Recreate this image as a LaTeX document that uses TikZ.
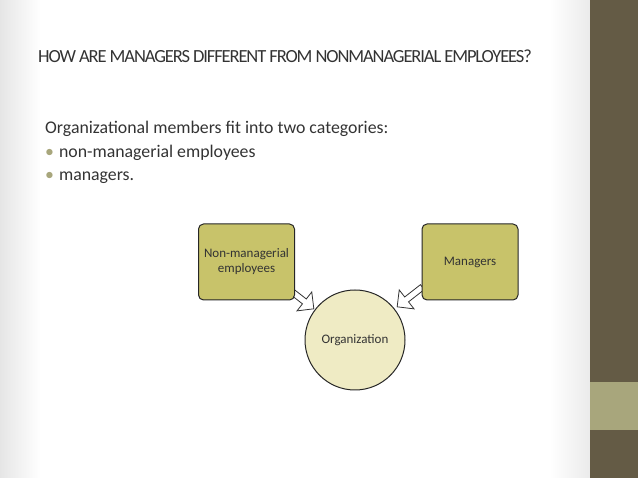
\documentclass[tikz,border=0pt]{standalone}
\usepackage{fontspec}
\setmainfont{Carlito}
\usetikzlibrary{shapes.arrows}
\definecolor{barc}{HTML}{645B45}
\definecolor{bandc}{HTML}{A8A67C}
\definecolor{boxc}{HTML}{C8C36A}
\definecolor{circc}{HTML}{EFEBC4}
\definecolor{bulc}{HTML}{A8A67C}
\definecolor{txt}{HTML}{333333}
\tikzset{
  box/.style={draw=black!85, line width=1pt, fill=boxc, rounded corners=5pt, minimum width=96pt, minimum height=76pt, align=center, font=\fontsize{13}{15}\selectfont, text=txt},
  circ/.style={draw=black!85, line width=1pt, fill=circc, circle, minimum size=100pt, font=\fontsize{13}{15}\selectfont, text=txt},
  barrow/.style={single arrow, draw=black!80, line width=0.8pt, fill=white, minimum height=32pt, minimum width=24pt, single arrow head extend=4pt, inner sep=1pt}
}
\begin{document}
\begin{tikzpicture}[x=1pt,y=-1pt]
\useasboundingbox (0,0) rectangle (638,478);
\shade[left color=black!10, right color=white] (0,0) rectangle (40,478);
\shade[left color=white, right color=black!8] (550,0) rectangle (590,478);
\fill[barc] (590,0) rectangle (638,478);
\fill[bandc] (590,382) rectangle (638,430);
\node[anchor=west, inner sep=0, text=txt] (title) at (38,56) {\addfontfeature{LetterSpace=-6}\fontsize{18.5}{20}\selectfont HOW ARE MANAGERS DIFFERENT FROM NONMANAGERIAL EMPLOYEES?};
\node[anchor=north west, inner sep=0, align=left, text=txt, font=\fontsize{17.8}{23.5}\selectfont] (body) at (45,121)
{Organizational members fit into two categories:\\
{\color{bulc}\textbullet}\hspace{5pt}non-managerial employees\\
{\color{bulc}\textbullet}\hspace{5pt}managers.};
\node[barrow, rotate=-38] (a1) at (300,298) {};
\node[barrow, rotate=-142] (a2) at (411,296) {};
\node[box] (nm) at (246.5,262) {Non-managerial\\employees};
\node[box] (mg) at (470,262) {Managers};
\node[circ] (org) at (355,340) {Organization};
\end{tikzpicture}
\end{document}
